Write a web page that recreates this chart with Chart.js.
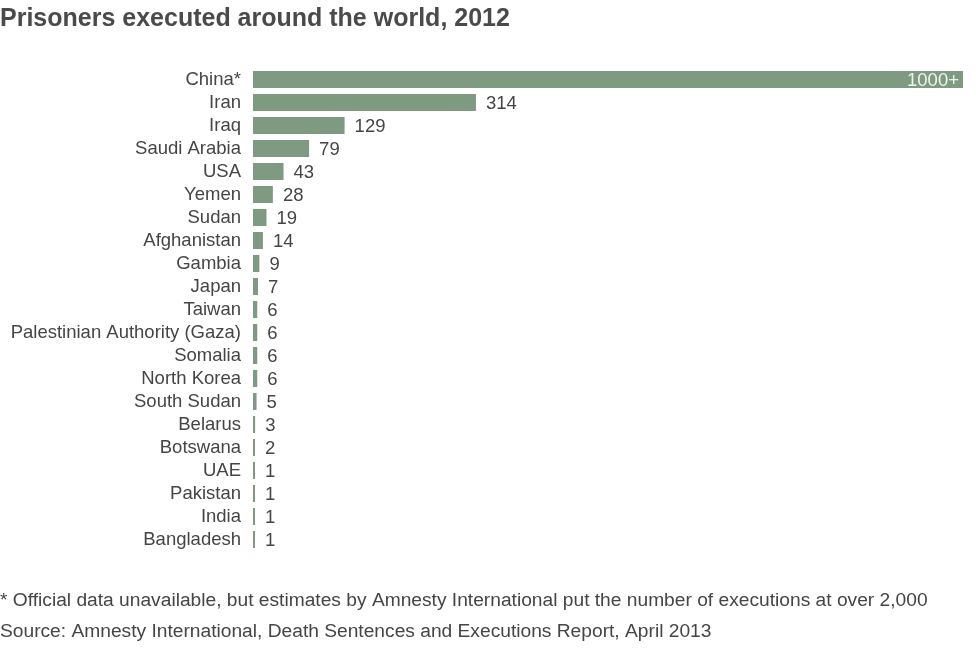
<!DOCTYPE html>
<html>
<head>
<meta charset="utf-8">
<script src="https://cdn.jsdelivr.net/npm/chart.js@4/dist/chart.umd.min.js"></script>
<style>
    html, body { margin: 0; padding: 0; background: #fff; }
    #wrap { position: relative; width: 976px; height: 649px; }
</style>
</head>
<body>
<div id="wrap"><canvas id="myChart" width="976" height="649"></canvas></div>
<script>
const countries = [
    "China*", "Iran", "Iraq", "Saudi Arabia", "USA", "Yemen", "Sudan",
    "Afghanistan", "Gambia", "Japan", "Taiwan", "Palestinian Authority (Gaza)",
    "Somalia", "North Korea", "South Sudan", "Belarus", "Botswana", "UAE",
    "Pakistan", "India", "Bangladesh",
];
const executions = [1000, 314, 129, 79, 43, 28, 19, 14, 9, 7, 6, 6, 6, 6, 5, 3, 2, 1, 1, 1, 1];
const valueLabels = [
    "1000+", "314", "129", "79", "43", "28", "19", "14", "9", "7", "6", "6",
    "6", "6", "5", "3", "2", "1", "1", "1", "1",
];
const title = "Prisoners executed around the world, 2012";
const footnotes = [
    "* Official data unavailable, but estimates by Amnesty International put the number of executions at over 2,000",
    "Source: Amnesty International, Death Sentences and Executions Report, April 2013",
];

const textColor = "#454545";
const barColor = "#7e9a80";
const fontFamily = "'Liberation Sans', Arial, Helvetica, sans-serif";

// draws title, value labels and footer text
const textPlugin = {
    id: "textPlugin",
    afterDatasetsDraw(chart) {
        const ctx = chart.ctx;
        const meta = chart.getDatasetMeta(0);
        ctx.save();
        ctx.font = "18.5px " + fontFamily;
        ctx.textBaseline = "middle";
        meta.data.forEach((bar, i) => {
            if (i === 0) {
                ctx.fillStyle = "#eef3ee";
                ctx.textAlign = "right";
                ctx.fillText(valueLabels[i], bar.x - 4, bar.y + 1);
            } else {
                ctx.fillStyle = textColor;
                ctx.textAlign = "left";
                ctx.fillText(valueLabels[i], bar.x + 10, bar.y + 1);
            }
        });
        ctx.restore();
    },
    afterDraw(chart) {
        const ctx = chart.ctx;
        ctx.save();
        ctx.fillStyle = "#4a4a4a";
        ctx.textAlign = "left";
        ctx.textBaseline = "middle";
        ctx.font = "bold 25px " + fontFamily;
        ctx.fillText(title, 0, 19);
        ctx.fillStyle = textColor;
        ctx.font = "19.2px " + fontFamily;
        ctx.fillText(footnotes[0], 0, 601);
        ctx.fillText(footnotes[1], 0, 632);
        ctx.restore();
    },
};

const ctx = document.getElementById("myChart");
const myChart = new Chart(ctx, {
    type: "bar",
    data: {
        labels: countries,
        datasets: [
            {
                data: executions,
                backgroundColor: barColor,
                borderWidth: 0,
                barPercentage: 0.74,
                categoryPercentage: 1,
                minBarLength: 2,
            },
        ],
    },
    options: {
        indexAxis: "y",
        responsive: false,
        animation: false,
        layout: {
            padding: { left: 0, right: 13, top: 68, bottom: 98 },
        },
        plugins: {
            legend: { display: false },
            tooltip: { enabled: false },
        },
        scales: {
            x: {
                display: false,
                min: 0,
                max: 1000,
            },
            y: {
                afterFit(scale) {
                    scale.width = 253;
                },
                grid: { display: false, drawTicks: false },
                border: { display: false },
                ticks: {
                    color: textColor,
                    padding: 12,
                    font: { family: fontFamily, size: 18.5 },
                    autoSkip: false,
                },
            },
        },
    },
    plugins: [textPlugin],
});
</script>
</body>
</html>
